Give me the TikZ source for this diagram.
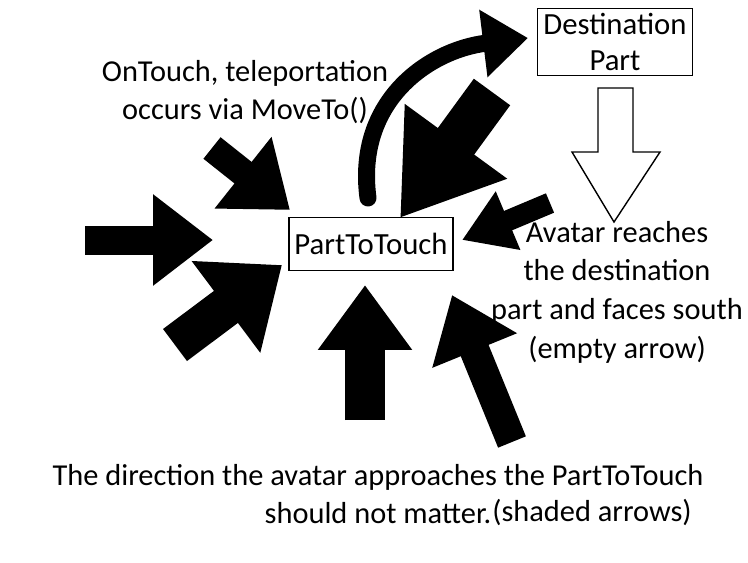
\documentclass[tikz,border=0pt]{standalone}
\usepackage{fontspec}
\setmainfont{Carlito}
\usetikzlibrary{arrows.meta}
\begin{document}
\begin{tikzpicture}[x=0.02cm,y=-0.02cm,
    box/.style={
        rectangle,
        draw=black,
        thick,
        inner sep=3pt,
        align=center,
        font=\fontsize{17.5}{20}\selectfont
    },
    label/.style={
        align=center,
        font=\fontsize{17.3}{22}\selectfont
    },
    push/.style={
        line width=0.62cm,
        -{Triangle[length=1.2cm,width=1.75cm]}
    }
]
\useasboundingbox (0,0) rectangle (748,562);

\node[box, minimum width=3.15cm, minimum height=1.05cm] (touch) at (371,244) {PartToTouch};
\node[box, minimum width=3.1cm, minimum height=1.3cm] (dest) at (615,42) {Destination\\Part};

\node[label] (teleport) at (245,92) {OnTouch, teleportation\\occurs via MoveTo()};
\node[label] (reach) at (617,292) {Avatar reaches\\the destination\\part and faces south\\(empty arrow)};
\node[label] (approach) at (378,494) {The direction the avatar approaches the PartToTouch\\should not matter.};
\node[label] (shaded) at (592,512) {(shaded arrows)};

% arrows towards PartToTouch
\coordinate (w0) at (85,240);   \coordinate (w1) at (213,240);
\coordinate (nw0) at (212,148); \coordinate (nw1) at (290,210);
\coordinate (sw0) at (175,345); \coordinate (sw1) at (282,265);
\coordinate (s0) at (365,420);  \coordinate (s1) at (365,285);
\coordinate (se0) at (512,442); \coordinate (se1) at (452,295);
\coordinate (e0) at (550,203);  \coordinate (e1) at (462,240);
\coordinate (n0) at (492,92);   \coordinate (n1) at (400,218);

\draw[push, line width=0.58cm] (w0) -- (w1);
\draw[push, line width=0.55cm] (nw0) -- (nw1);
\draw[push, line width=0.8cm, -{Triangle[length=1.4cm,width=2.2cm]}] (sw0) -- (sw1);
\draw[push, line width=0.8cm, -{Triangle[length=1.3cm,width=1.8cm]}] (s0) -- (s1);
\draw[push, line width=0.6cm] (se0) -- (se1);
\draw[push, line width=0.42cm, -{Triangle[length=1.0cm,width=1.2cm]}] (e0) -- (e1);
\draw[push, line width=0.9cm, -{Triangle[length=1.9cm,width=2.4cm]}] (n0) -- (n1);

% teleport curve
\coordinate (c0) at (368,198);
\coordinate (c1) at (528,38);
\draw[line width=0.34cm, line cap=round, -{Triangle[length=0.9cm,width=1.3cm]}]
    (c0) .. controls (355,100) and (430,50) .. (c1);

% facing south
\draw[thick, fill=white] (598,88) -- (633,88) -- (633,152) -- (660,152) -- (614,222)
    -- (572,152) -- (598,152) -- cycle;
\end{tikzpicture}
\end{document}
